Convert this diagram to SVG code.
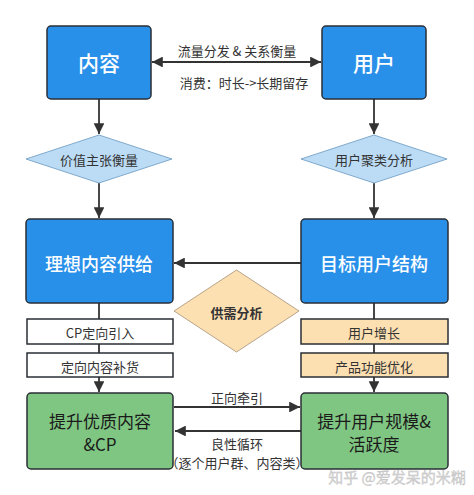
<svg xmlns="http://www.w3.org/2000/svg" width="474" height="495" viewBox="0 0 474 495">
<style>
text{font-family:"Noto Sans CJK SC","Noto Sans",sans-serif;text-anchor:middle;dominant-baseline:central}
.blue{fill:#2990ea;stroke:#2a2f36;stroke-width:1.5}
.green{fill:#80c683;stroke:#2a2f36;stroke-width:1.5}
.white{fill:#ffffff;stroke:#2a2f36;stroke-width:1.5}
.orange{fill:#fde0b2;stroke:#2a2f36;stroke-width:1.5}
.dia{fill:#bcdcf6;stroke:#7fa9cc;stroke-width:1}
.dia2{fill:#fde0b2;stroke:#b8a48a;stroke-width:1}
.bt{fill:#ffffff;font-size:18px;font-weight:500}
.big{fill:#ffffff;font-size:21px;font-weight:500}
.gt{fill:#1a1a1a;font-size:17px}
.st{fill:#333333;font-size:13px}
.lbl{fill:#333333;font-size:13px}
.ln{stroke:#333333;stroke-width:1.8;fill:none}
</style>
<defs>
<marker id="ah" viewBox="0 0 10 10" refX="10" refY="5" markerWidth="6" markerHeight="6" orient="auto-start-reverse" markerUnits="strokeWidth">
<path d="M0,0 L10,5 L0,10 z" fill="#333333"/>
</marker>
</defs>
<rect width="474" height="495" fill="#ffffff"/>
<text x="237" y="462" class="lbl">（逐个用户群、内容类）</text>
<g id="connectors">
<line class="ln" x1="152" y1="62" x2="321" y2="62" marker-start="url(#ah)" marker-end="url(#ah)"/>
<line class="ln" x1="99" y1="99" x2="99" y2="134" marker-end="url(#ah)"/>
<line class="ln" x1="374" y1="99" x2="374" y2="134" marker-end="url(#ah)"/>
<line class="ln" x1="99" y1="183" x2="99" y2="218" marker-end="url(#ah)"/>
<line class="ln" x1="374" y1="183" x2="374" y2="218" marker-end="url(#ah)"/>
<line class="ln" x1="301" y1="263" x2="174" y2="263" marker-end="url(#ah)"/>
<line class="ln" x1="99" y1="303" x2="99" y2="319"/>
<line class="ln" x1="99" y1="344" x2="99" y2="353"/>
<line class="ln" x1="99" y1="377" x2="99" y2="392" marker-end="url(#ah)"/>
<line class="ln" x1="374" y1="303" x2="374" y2="319"/>
<line class="ln" x1="374" y1="344" x2="374" y2="353"/>
<line class="ln" x1="374" y1="377" x2="374" y2="392" marker-end="url(#ah)"/>
<line class="ln" x1="174" y1="407" x2="300" y2="407" marker-end="url(#ah)"/>
<line class="ln" x1="301" y1="431" x2="175" y2="431" marker-end="url(#ah)"/>
<text x="237" y="50" class="lbl">流量分发 &amp; 关系衡量</text>
<text x="244" y="82" class="lbl">消费：时长-&gt;长期留存</text>
<text x="237" y="397" class="lbl">正向牵引</text>
<text x="237" y="443" class="lbl">良性循环</text>
</g>
<g id="n-content"><rect x="47" y="26" width="104" height="73" rx="4" class="blue"/><text x="99" y="62" class="big">内容</text></g>
<g id="n-user"><rect x="322" y="26" width="104" height="73" rx="4" class="blue"/><text x="374" y="62" class="big">用户</text></g>
<g id="n-value"><polygon points="99,135 172,159 99,183 26,159" class="dia"/><text x="99" y="159" class="st">价值主张衡量</text></g>
<g id="n-cluster"><polygon points="374,135 447,159 374,183 301,159" class="dia"/><text x="374" y="159" class="st">用户聚类分析</text></g>
<g id="n-supply"><rect x="26" y="219" width="147" height="84" rx="4" class="blue"/><text x="99" y="263" class="bt">理想内容供给</text></g>
<g id="n-target"><rect x="301" y="219" width="147" height="84" rx="4" class="blue"/><text x="374" y="263" class="bt">目标用户结构</text></g>
<g id="n-sd"><polygon points="236.5,270 299,311 236.5,352 174,311" class="dia2"/><text x="236.5" y="312" class="st" style="font-weight:bold">供需分析</text></g>
<g id="n-cp"><rect x="27" y="319" width="146" height="25" class="white"/><text x="100" y="332" class="st">CP定向引入</text></g>
<g id="n-restock"><rect x="27" y="353" width="146" height="24" class="white"/><text x="100" y="366" class="st">定向内容补货</text></g>
<g id="n-growth"><rect x="301" y="319" width="147" height="25" class="orange"/><text x="374" y="332" class="st">用户增长</text></g>
<g id="n-feature"><rect x="301" y="353" width="147" height="24" class="orange"/><text x="374" y="366" class="st">产品功能优化</text></g>
<g id="n-quality"><rect x="27" y="393" width="146" height="76" rx="4" class="green"/><text x="100" y="420" class="gt">提升优质内容</text><text x="100" y="443" class="gt">&amp;CP</text></g>
<g id="n-scale"><rect x="301" y="393" width="147" height="76" rx="4" class="green"/><text x="374" y="420" class="gt">提升用户规模&amp;</text><text x="374" y="443" class="gt">活跃度</text></g>
<text x="397" y="476" style="font-size:15px;fill:#d4d4d4;stroke:#bdbdbd;stroke-width:0.3">知乎 @爱发呆的米糊</text>
</svg>
